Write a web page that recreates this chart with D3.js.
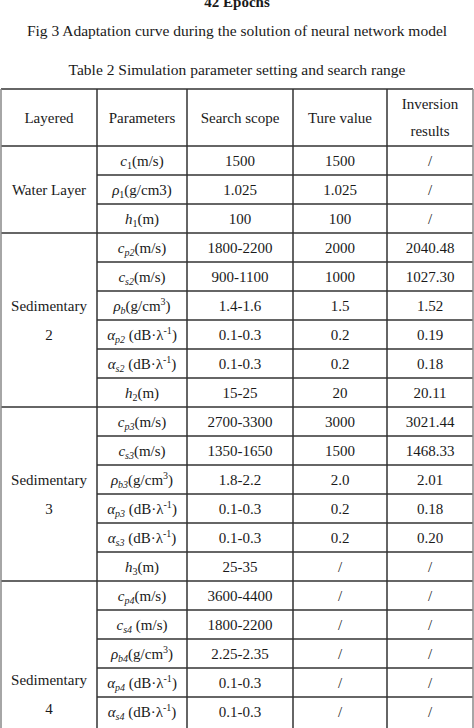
<!DOCTYPE html>
<html lang="en">
<head>
<meta charset="UTF-8">
<title>Table 2</title>
<script src="https://d3js.org/d3.v7.min.js"></script>
<style>
  body { margin: 0; padding: 0; background: #fff; }
  svg { display: block; font-family: "Liberation Serif", "DejaVu Serif", serif; }
  text { fill: #1a1a1a; }
</style>
</head>
<body>
<svg width="474" height="728"></svg>
<script>
// Data
const headers = ["Layered", "Parameters", "Search scope", "Ture value", "Inversion|results"];
const layers = [
  { name: ["Water Layer"], rows: 3, mid: 1.5 },
  { name: ["Sedimentary", "2"], rows: 6, mid: 3 },
  { name: ["Sedimentary", "3"], rows: 6, mid: 3 },
  { name: ["Sedimentary", "4"], rows: 5, mid: 3.9 }
];
// symbol _ subscript _ unit, ^ marks superscript
const params = [
  "c_1_(m/s)", "ρ_1_(g/cm3)", "h_1_(m)",
  "c_p2_(m/s)", "c_s2_(m/s)", "ρ_b_(g/cm^3^)", "α_p2_ (dB·λ^-1^)", "α_s2_ (dB·λ^-1^)", "h_2_(m)",
  "c_p3_(m/s)", "c_s3_(m/s)", "ρ_b3_(g/cm^3^)", "α_p3_ (dB·λ^-1^)", "α_s3_ (dB·λ^-1^)", "h_3_(m)",
  "c_p4_(m/s)", "c_s4_ (m/s)", "ρ_b4_(g/cm^3^)", "α_p4_ (dB·λ^-1^)", "α_s4_ (dB·λ^-1^)"
];
const scopes = ["1500", "1.025", "100",
  "1800-2200", "900-1100", "1.4-1.6", "0.1-0.3", "0.1-0.3", "15-25",
  "2700-3300", "1350-1650", "1.8-2.2", "0.1-0.3", "0.1-0.3", "25-35",
  "3600-4400", "1800-2200", "2.25-2.35", "0.1-0.3", "0.1-0.3"];
const trueValues = ["1500", "1.025", "100",
  "2000", "1000", "1.5", "0.2", "0.2", "20",
  "3000", "1500", "2.0", "0.2", "0.2", "/",
  "/", "/", "/", "/", "/"];
const results = ["/", "/", "/",
  "2040.48", "1027.30", "1.52", "0.19", "0.18", "20.11",
  "3021.44", "1468.33", "2.01", "0.18", "0.20", "/",
  "/", "/", "/", "/", "/"];
const colEdges = [1, 97, 187, 293, 387, 473];

const svg = d3.select("svg");
const headTop = 89, headBottom = 146, rowH = 29, fs = 15;
const y = d3.scaleLinear().domain([0, 1]).range([headBottom, headBottom + rowH]);
const nRows = params.length;

// captions
svg.append("text").attr("x", 237).attr("y", 7).attr("text-anchor", "middle")
  .attr("font-size", 15).attr("font-weight", "bold").text("42 Epochs");
svg.append("text").attr("x", 237).attr("y", 36).attr("text-anchor", "middle")
  .attr("font-size", 15.5).text("Fig 3 Adaptation curve during the solution of neural network model");
svg.append("text").attr("x", 237).attr("y", 75).attr("text-anchor", "middle")
  .attr("font-size", 15.5).text("Table 2 Simulation parameter setting and search range");

const cx = i => (colEdges[i] + colEdges[i + 1]) / 2;

// header
headers.forEach((h, i) => {
  const lines = h.split("|");
  lines.forEach((l, k) => {
    svg.append("text").attr("x", cx(i))
      .attr("y", (headTop + headBottom) / 2 + 5 + (k - (lines.length - 1) / 2) * 27)
      .attr("text-anchor", "middle").attr("font-size", fs).text(l);
  });
});

// parameter cell with sub/superscripts
function drawParam(str, r) {
  const [sym, sub, unit] = str.split("_");
  const t = svg.append("text").attr("x", cx(1)).attr("y", y(r + 0.5) + 5)
    .attr("text-anchor", "middle").attr("font-size", fs);
  t.append("tspan").attr("font-style", "italic").text(sym);
  t.append("tspan").attr("font-size", 10).attr("font-style", /\d/.test(sub[0]) ? "normal" : "italic")
    .attr("dy", 3).text(sub);
  let dy = -3;
  unit.split("^").forEach((p, k) => {
    if (!p) return;
    const sup = k % 2 === 1;
    t.append("tspan").attr("font-size", sup ? 10 : fs).attr("dy", sup ? -6 : dy).text(p);
    dy = sup ? 6 : 0;
  });
}
params.forEach((p, r) => drawParam(p, r));

[scopes, trueValues, results].forEach((col, ci) => {
  svg.selectAll(null).data(col).enter().append("text")
    .attr("x", cx(ci + 2)).attr("y", (d, r) => y(r + 0.5) + 5)
    .attr("text-anchor", "middle").attr("font-size", fs).text(d => d);
});

// layer labels and group lines
let start = 0;
const groupStarts = [];
layers.forEach(L => {
  groupStarts.push(start);
  const mid = y(start + L.mid);
  L.name.forEach((n, k) => {
    svg.append("text").attr("x", cx(0))
      .attr("y", mid + 5 + (k - (L.name.length - 1) / 2) * 29)
      .attr("text-anchor", "middle").attr("font-size", fs).text(n);
  });
  start += L.rows;
});

const line = (x1, y1, x2, y2) => svg.append("line").attr("x1", x1).attr("y1", y1)
  .attr("x2", x2).attr("y2", y2).attr("stroke", "#333").attr("stroke-width", 1.5);

line(colEdges[0], headTop, colEdges[5], headTop);
line(colEdges[0], headBottom, colEdges[5], headBottom);
d3.range(1, nRows).forEach(r => {
  if (groupStarts.includes(r)) line(colEdges[0], y(r), colEdges[5], y(r));
  else line(colEdges[1], y(r), colEdges[5], y(r));
});
colEdges.forEach((x, i) => {
  const l = line(x, headTop, x, 728);
  if (i === 0 || i === 5) l.attr("stroke", "#888");
});
</script>
</body>
</html>
